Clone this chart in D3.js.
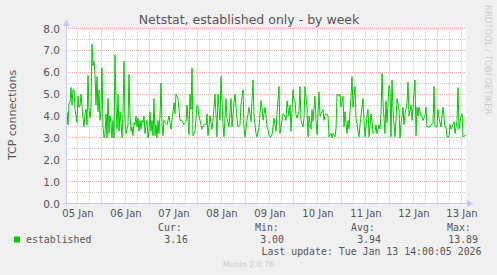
<!doctype html>
<html>
<head>
<meta charset="utf-8">
<title>Netstat, established only - by week</title>
<script type="text/javascript" src="https://d3js.org/d3.v7.min.js"></script>
<style>
  body { margin: 0; background: #f0f0f0; }
  svg { display: block; }
</style>
</head>
<body>
<div id="chart"></div>
<script>

// start of the week graph (8 days 8 hours before last update), samples every 30 minutes
var startTime = Date.UTC(2026, 0, 5, 6, 0, 5);
var slotMinutes = 30;

// sample slot index (half hours after start)
var slots = [
  1,2,3,4,5,6,7,8,9,10,11,12,13,14,15,16,17,18,19,20,21,22,23,24,25,26,27,28,29,30,
  31,32,33,34,35,36,37,38,39,40,41,42,43,44,45,46,47,48,49,50,51,52,53,54,55,56,57,58,59,60,
  61,62,63,64,65,66,67,68,69,70,71,72,73,74,75,76,77,78,79,80,81,82,83,84,85,86,87,88,89,90,
  91,92,93,94,95,96,97,
  98,99,101,103,105,108,109,110,112,114,116,118,120,121,123,124,125,126,127,129,131,132,133,135,136,138,140,141,142,144,
  146,147,149,151,152,154,155,157,158,160,161,163,165,166,168,169,171,172,174,175,177,178,179,181,183,185,187,188,190,191,
  193,195,196,197,199,200,201,
  202,203,205,206,208,210,211,213,214,215,217,219,220,221,223,224,225,227,228,229,230,231,233,234,235,237,238,239,241,242,
  243,245,246,247,249,250,251,253,254,255,257,258,259,261,262,263,265,266,267,269,270,271,273,274,275,277,278,279,281,282,
  283,285,286,287,289,290,291,293,294,295,297,
  298,299,301,302,303,305,306,307,309,310,311,313,314,315,316,317,319,320,321,323,324,325,326,327,329,330,331,333,334,335,
  337,338,339,341,342,343,345,346,347,349,350,351,352,353,355,356,357,359,360,361,363,364,365,367,368,369,371,372,373,375,
  376,377,379,380,381,383,384,385,387,388,389,391,392,393,395,396,397,399,400
];

// established connections
var established = [
  4.2,3.6,4.6,4.6,5.3,4.5,5.2,5.2,4.3,4.0,3.7,4.9,4.4,4.5,5.0,4.4,3.9,3.5,4.1,4.3,3.6,5.85,4.3,3.9,4.4,7.3,6.3,6.5,5.9,4.5,
  5.8,4.2,5.2,3.8,4.3,6.2,3.5,3.0,3.2,4.1,3.0,4.8,3.2,4.0,3.7,3.0,3.8,3.0,6.8,4.5,3.4,5.0,3.3,4.2,3.7,3.0,4.1,6.5,3.7,3.2,
  3.4,3.6,5.9,4.0,3.3,3.5,3.1,3.7,3.6,4.0,3.5,3.9,3.3,3.8,3.4,3.8,3.7,4.0,3.2,3.6,3.8,3.0,3.3,4.2,3.3,3.8,3.1,4.8,3.1,3.6,
  3.0,3.8,3.2,4.0,5.5,3.6,3.1,
  3.8,3.7,3.6,4.0,3.4,4.6,4.1,5.0,4.8,3.8,3.8,3.6,3.75,4.5,3.15,5.0,4.3,6.2,3.1,3.3,4.5,4.4,4.0,3.6,3.4,3.6,3.6,4.1,3.1,4.0,
  3.4,3.8,5.0,3.05,5.0,3.8,5.8,3.6,3.05,4.8,3.9,3.5,4.8,3.5,4.6,5.0,3.9,3.5,3.6,4.5,5.2,3.5,3.05,3.8,4.4,3.75,5.65,4.0,3.2,3.05,
  3.5,4.7,4.4,3.8,4.4,4.0,3.5,
  3.4,3.1,3.05,3.15,3.9,3.3,4.1,5.35,3.2,3.5,4.1,4.0,3.8,4.7,4.0,4.5,3.3,5.2,4.7,4.7,4.05,3.9,4.2,5.35,3.8,3.5,3.9,5.35,4.4,3.05,
  4.0,3.4,4.3,3.75,4.9,3.8,3.15,5.1,4.0,4.1,4.3,3.8,4.05,4.1,4.0,3.05,3.2,3.0,3.2,3.05,3.4,5.0,4.9,5.0,4.4,4.9,3.5,4.2,3.2,3.8,
  3.4,4.9,5.8,4.4,5.35,3.9,3.6,3.05,3.6,4.0,4.8,
  3.8,3.05,4.0,4.3,3.05,4.1,3.75,3.2,3.3,3.6,3.2,3.6,3.4,4.1,5.95,4.6,3.2,4.7,3.7,5.4,5.2,3.05,5.65,4.3,3.05,3.8,4.8,4.3,3.0,3.6,
  4.4,3.6,4.1,4.6,5.55,4.0,4.5,3.8,4.4,5.65,3.1,4.4,4.0,4.4,4.0,4.0,3.8,4.0,4.4,3.5,3.5,3.5,3.6,3.65,5.35,3.5,3.5,4.3,3.9,3.5,
  4.0,4.4,3.5,3.5,3.05,3.05,3.6,3.4,3.6,3.75,3.2,3.75,5.3,3.4,4.0,4.1,3.05,3.1,3.16
];

var yTicks = [0, 1, 2, 3, 4, 5, 6, 7, 8];
var legendHeads = ["Cur:", "Min:", "Avg:", "Max:"];
var legendValues = ["3.16", "3.00", "3.94", "13.89"];
var lastUpdate = "Last update: Tue Jan 13 14:00:05 2026";

var W = 497, H = 275;
var plotLeft = 66, plotRight = 466, plotTop = 28.5, plotBottom = 203.5;

var endTime = startTime + 400 * slotMinutes * 60000;

var x = d3.scaleUtc()
  .domain([new Date(startTime), new Date(endTime)])
  .range([plotLeft, plotRight]);
var y = d3.scaleLinear()
  .domain([0, 8])
  .range([plotBottom, plotTop]);

var svg = d3.select("#chart").append("svg")
  .attr("width", W)
  .attr("height", H);

svg.append("rect").attr("width", W).attr("height", H).attr("fill", "#f0f0f0");
svg.append("rect")
  .attr("x", plotLeft).attr("y", plotTop)
  .attr("width", plotRight - plotLeft).attr("height", plotBottom - plotTop)
  .attr("fill", "#ffffff");

var minorCol = "#cacaca", majorCol = "#eda8a8";
var crisp = function(v) { return Math.floor(v) + 0.5; };

// horizontal grid, minor every 0.5
var halfSteps = d3.range(1, 17).map(function(i) { return i / 2; });
svg.append("g").selectAll("line")
  .data(halfSteps.filter(function(d) { return d % 1 != 0; }))
  .enter().append("line")
  .attr("x1", plotLeft).attr("x2", plotRight)
  .attr("y1", function(d) { return crisp(y(d)); })
  .attr("y2", function(d) { return crisp(y(d)); })
  .attr("stroke", minorCol).attr("stroke-dasharray", "1,1");

// vertical grid, minor every 6 hours
var sixHours = d3.utcHour.every(6).range(new Date(startTime), new Date(endTime));
svg.append("g").selectAll("line")
  .data(sixHours.filter(function(d) { return d.getUTCHours() != 0; }))
  .enter().append("line")
  .attr("x1", function(d) { return crisp(x(d)); })
  .attr("x2", function(d) { return crisp(x(d)); })
  .attr("y1", plotTop).attr("y2", plotBottom)
  .attr("stroke", minorCol).attr("stroke-dasharray", "1,1");

svg.append("g").selectAll("line")
  .data(yTicks.slice(1))
  .enter().append("line")
  .attr("x1", plotLeft).attr("x2", plotRight)
  .attr("y1", function(d) { return crisp(y(d)); })
  .attr("y2", function(d) { return crisp(y(d)); })
  .attr("stroke", majorCol).attr("stroke-dasharray", "1,1");

var days = d3.utcDay.range(new Date(startTime), new Date(endTime));
svg.append("g").selectAll("line")
  .data(days)
  .enter().append("line")
  .attr("x1", function(d) { return crisp(x(d)); })
  .attr("x2", function(d) { return crisp(x(d)); })
  .attr("y1", plotTop).attr("y2", plotBottom + 3)
  .attr("stroke", majorCol).attr("stroke-dasharray", "1,1");

// data line
var points = slots.map(function(s, i) {
  return { t: new Date(startTime + s * slotMinutes * 60000), v: established[i] };
});
var line = d3.line()
  .x(function(d) { return x(d.t); })
  .y(function(d) { return y(d.v); });
svg.append("path")
  .datum(points)
  .attr("d", line)
  .attr("fill", "none")
  .attr("stroke", "#00cc00")
  .attr("stroke-width", 1);

// axes with arrows
var axisCol = "#c8c8f4";
svg.append("line")
  .attr("x1", plotLeft + 0.5).attr("x2", plotLeft + 0.5)
  .attr("y1", plotBottom + 3).attr("y2", 22)
  .attr("stroke", axisCol);
svg.append("line")
  .attr("x1", plotLeft - 3).attr("x2", 471)
  .attr("y1", crisp(plotBottom)).attr("y2", crisp(plotBottom))
  .attr("stroke", axisCol);
svg.append("path")
  .attr("d", "M" + (plotLeft + 0.5) + ",19 L" + (plotLeft + 4) + ",26 L" + (plotLeft - 3) + ",26 Z")
  .attr("fill", axisCol);
svg.append("path")
  .attr("d", "M474," + crisp(plotBottom) + " L467," + (crisp(plotBottom) - 3.5) + " L467," + (crisp(plotBottom) + 3.5) + " Z")
  .attr("fill", axisCol);

var tickFont = "DejaVu Sans, sans-serif";

// y tick labels
svg.append("g").selectAll("text")
  .data(yTicks)
  .enter().append("text")
  .attr("x", 60)
  .attr("y", function(d) { return y(d) + 4; })
  .attr("text-anchor", "end")
  .attr("font-family", tickFont)
  .attr("font-size", "10.5px")
  .attr("fill", "#555")
  .text(function(d) { return d.toFixed(1); });

// x tick labels at noon
var fmt = d3.utcFormat("%d %b");
var noons = d3.utcDay.range(new Date(Date.UTC(2026, 0, 5)), new Date(endTime))
  .map(function(d) { return d3.utcHour.offset(d, 12); });
svg.append("g").selectAll("text")
  .data(noons)
  .enter().append("text")
  .attr("x", function(d) { return x(d); })
  .attr("y", 216.5)
  .attr("text-anchor", "middle")
  .attr("font-family", tickFont)
  .attr("font-size", "10px")
  .attr("fill", "#555")
  .text(fmt);

// title and axis label
svg.append("text")
  .attr("x", 249).attr("y", 23.5)
  .attr("text-anchor", "middle")
  .attr("font-family", tickFont)
  .attr("font-size", "12.5px")
  .attr("fill", "#555")
  .text("Netstat, established only - by week");

svg.append("text")
  .attr("transform", "translate(16,115) rotate(-90)")
  .attr("text-anchor", "middle")
  .attr("font-family", tickFont)
  .attr("font-size", "11px")
  .attr("fill", "#555")
  .text("TCP connections");

svg.append("text")
  .attr("transform", "translate(484.5,5) rotate(90)")
  .attr("font-family", tickFont)
  .attr("font-size", "8.5px")
  .attr("fill", "#cccccc")
  .text("RRDTOOL / TOBI OETIKER");

// legend
var mono = "DejaVu Sans Mono, monospace";
svg.append("rect")
  .attr("x", 14).attr("y", 236.5)
  .attr("width", 6).attr("height", 6)
  .attr("fill", "#00cc00");
svg.append("text")
  .attr("x", 26).attr("y", 242.5)
  .attr("font-family", mono).attr("font-size", "9.9px").attr("fill", "#555")
  .text("established");

var headX = [158, 255, 351, 447];
var valX = [188, 284, 381, 478];
svg.append("g").selectAll("text")
  .data(legendHeads)
  .enter().append("text")
  .attr("x", function(d, i) { return headX[i]; })
  .attr("y", 230.5)
  .attr("font-family", mono).attr("font-size", "9.9px").attr("fill", "#555")
  .text(function(d) { return d; });
svg.append("g").selectAll("text")
  .data(legendValues)
  .enter().append("text")
  .attr("x", function(d, i) { return valX[i]; })
  .attr("y", 242.5)
  .attr("text-anchor", "end")
  .attr("font-family", mono).attr("font-size", "9.9px").attr("fill", "#555")
  .text(function(d) { return d; });

svg.append("text")
  .attr("x", 261.5).attr("y", 254.5)
  .attr("font-family", mono).attr("font-size", "9.9px").attr("fill", "#555")
  .text(lastUpdate);

svg.append("text")
  .attr("x", 223).attr("y", 266.5)
  .attr("font-family", tickFont).attr("font-size", "7.8px").attr("fill", "#c8c8c8")
  .text("Munin 2.0.76");

</script>
</body>
</html>
